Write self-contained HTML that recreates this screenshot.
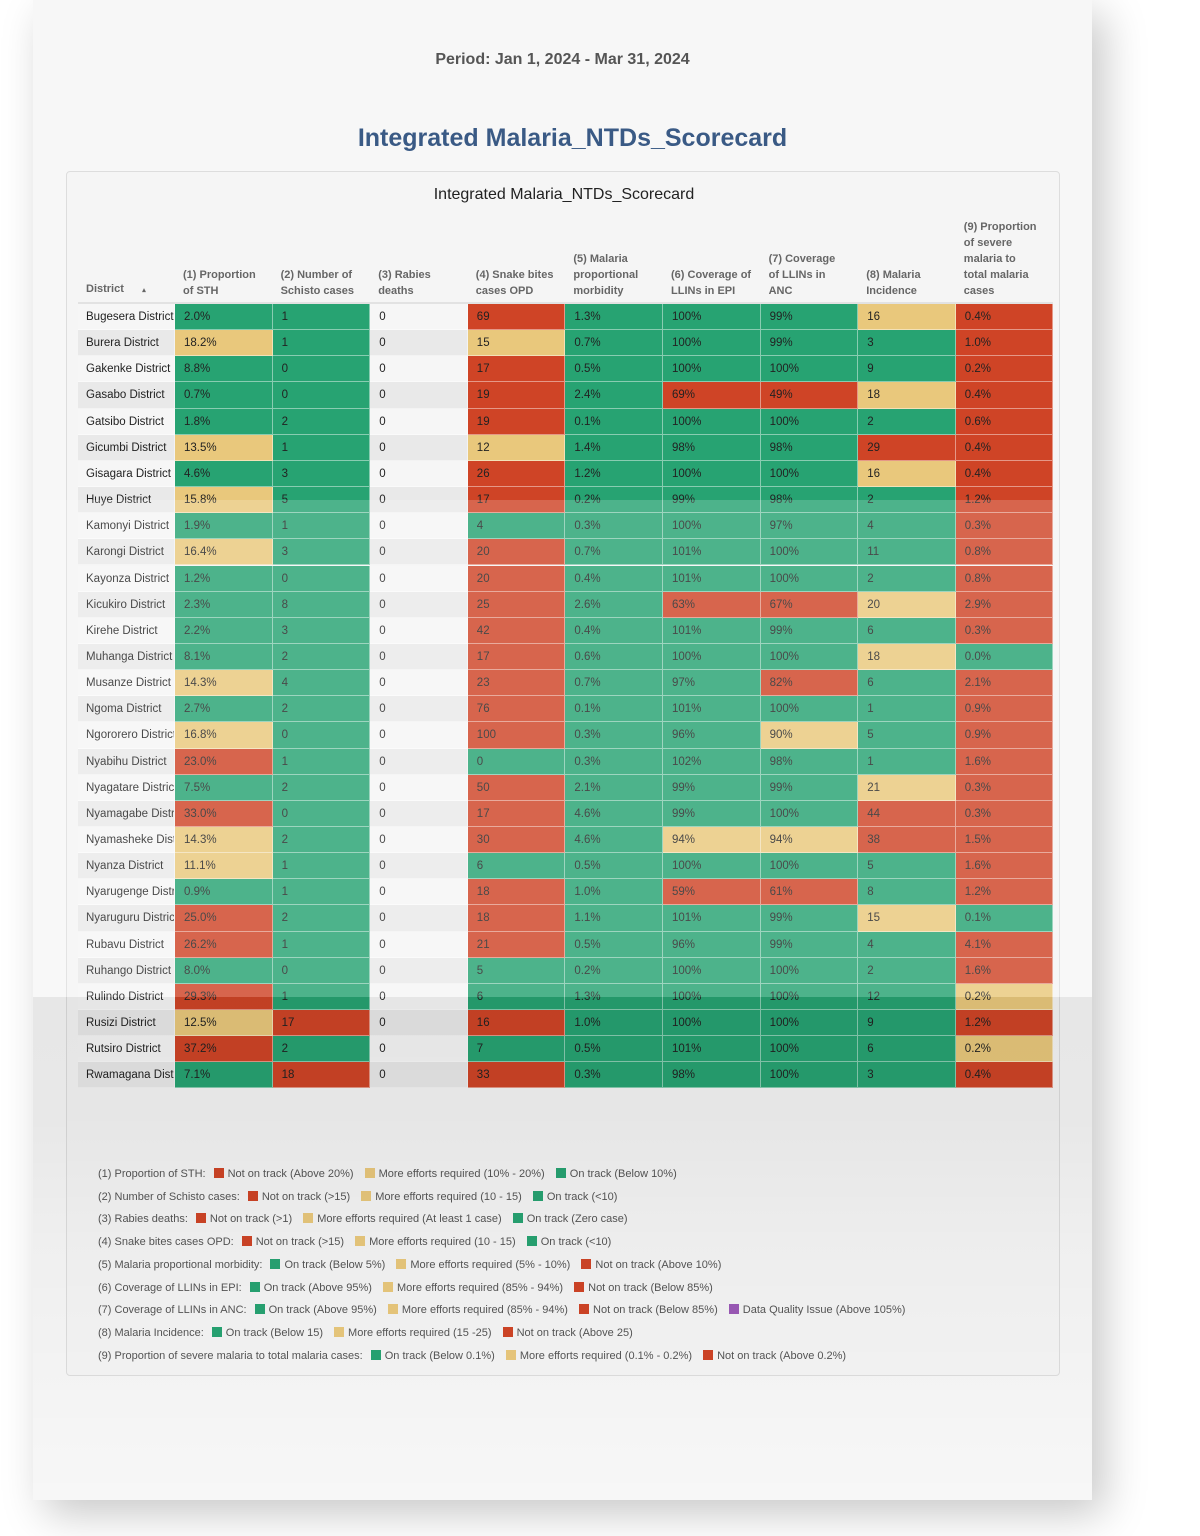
<!DOCTYPE html>
<html><head><meta charset="utf-8">
<style>
*{box-sizing:border-box;margin:0;padding:0}
body{width:1200px;height:1536px;background:#fff;position:relative;overflow:hidden;font-family:"Liberation Sans",Arial,sans-serif}
#page{position:absolute;left:33px;top:0;width:1059px;height:1500px;background:#f7f7f7;box-shadow:12px 14px 40px rgba(0,0,0,0.22)}
.abs{position:absolute}
#period{left:0;width:1059px;top:51px;text-align:center;font-size:16px;color:#555;font-weight:bold}
#title{left:0;width:1079px;top:124px;text-align:center;font-size:25px;color:#3a5a85;font-weight:bold}
#card{left:33px;top:171px;width:994px;height:1205px;border:1px solid #ddd;border-radius:4px;background:#f5f5f5}
#cardtitle{left:0;width:994px;top:14px;text-align:center;font-size:16px;color:#222}
.hdr{font-size:11px;font-weight:bold;color:#666;line-height:16px;position:absolute;bottom:0}
.cell{position:absolute;font-size:11.5px;color:#222;line-height:26px;padding-left:9px;white-space:nowrap;overflow:hidden;border-right:1px solid rgba(255,255,255,0.45);border-bottom:1px solid rgba(255,255,255,0.45)}
.leg{position:absolute;left:31px;font-size:11px;color:#555;white-space:nowrap}
.sw{display:inline-block;width:10px;height:10px;vertical-align:-1px;margin:0 4px 0 8px}
#band1{left:0;top:500px;width:1059px;height:497px;background:rgba(255,255,255,0.18);pointer-events:none}
#band2{left:0;top:997px;width:1059px;height:503px;background:linear-gradient(rgba(0,0,0,0.065) 0px,rgba(0,0,0,0.06) 130px,rgba(0,0,0,0.03) 250px,rgba(0,0,0,0.0) 503px);pointer-events:none}
</style></head>
<body>
<div id="page">
  <div id="period" class="abs">Period: Jan 1, 2024 - Mar 31, 2024</div>
  <div id="title" class="abs">Integrated Malaria_NTDs_Scorecard</div>
  <div id="card" class="abs">
    <div id="cardtitle" class="abs">Integrated Malaria_NTDs_Scorecard</div>
    <div id="table" class="abs" style="left:0;top:0;width:994px;height:1000px"></div>
    <div id="legend" class="abs" style="left:0;top:995px;width:994px;height:200px"></div>
  </div>
  <div id="band1" class="abs"></div>
  <div id="band2" class="abs"></div>
</div>
<script>
const districts=["Bugesera District","Burera District","Gakenke District","Gasabo District","Gatsibo District","Gicumbi District","Gisagara District","Huye District","Kamonyi District","Karongi District","Kayonza District","Kicukiro District","Kirehe District","Muhanga District","Musanze District","Ngoma District","Ngororero District","Nyabihu District","Nyagatare District","Nyamagabe District","Nyamasheke District","Nyanza District","Nyarugenge District","Nyaruguru District","Rubavu District","Ruhango District","Rulindo District","Rusizi District","Rutsiro District","Rwamagana District"];
const sth=[2.0,18.2,8.8,0.7,1.8,13.5,4.6,15.8,1.9,16.4,1.2,2.3,2.2,8.1,14.3,2.7,16.8,23.0,7.5,33.0,14.3,11.1,0.9,25.0,26.2,8.0,29.3,12.5,37.2,7.1];
const schisto=[1,1,0,0,2,1,3,5,1,3,0,8,3,2,4,2,0,1,2,0,2,1,1,2,1,0,1,17,2,18];
const rabies=[0,0,0,0,0,0,0,0,0,0,0,0,0,0,0,0,0,0,0,0,0,0,0,0,0,0,0,0,0,0];
const snake=[69,15,17,19,19,12,26,17,4,20,20,25,42,17,23,76,100,0,50,17,30,6,18,18,21,5,6,16,7,33];
const morbidity=[1.3,0.7,0.5,2.4,0.1,1.4,1.2,0.2,0.3,0.7,0.4,2.6,0.4,0.6,0.7,0.1,0.3,0.3,2.1,4.6,4.6,0.5,1.0,1.1,0.5,0.2,1.3,1.0,0.5,0.3];
const llinEpi=[100,100,100,69,100,98,100,99,100,101,101,63,101,100,97,101,96,102,99,99,94,100,59,101,96,100,100,100,101,98];
const llinAnc=[99,99,100,49,100,98,100,98,97,100,100,67,99,100,82,100,90,98,99,100,94,100,61,99,99,100,100,100,100,100];
const incidence=[16,3,9,18,2,29,16,2,4,11,2,20,6,18,6,1,5,1,21,44,38,5,8,15,4,2,12,9,6,3];
const severe=[0.4,1.0,0.24,0.4,0.6,0.4,0.4,1.2,0.3,0.8,0.8,2.9,0.3,0.0,2.1,0.9,0.9,1.6,0.3,0.3,1.5,1.6,1.2,0.1,4.1,1.6,0.2,1.2,0.2,0.4];
const headers=["(1) Proportion of STH","(2) Number of Schisto cases","(3) Rabies deaths","(4) Snake bites cases OPD","(5) Malaria proportional morbidity","(6) Coverage of LLINs in EPI","(7) Coverage of LLINs in ANC","(8) Malaria Incidence","(9) Proportion of severe malaria to total malaria cases"];
const hdrWidths=[86,85,60,85,80,82,76,70,74];

const G="#27a372",Y="#e9c87c",R="#cf4426",P="#9b59b6";
function cSth(v){return v>20?R:v>=10?Y:G}
function cSch(v){return v>15?R:v>=10?Y:G}
function cSnake(v){return v>15?R:v>=10?Y:G}
function cMorb(v){return v>10?R:v>=5?Y:G}
function cCov(v){return v>=95?G:v>=85?Y:R}
function cInc(v){return v>25?R:v>=15?Y:G}
function cSev(v){return v>0.2?R:v>0.1?Y:G}
const cols=[
 {vals:sth,fmt:v=>v.toFixed(1)+"%",col:cSth,name:"sth"},
 {vals:schisto,fmt:v=>String(v),col:cSch,name:"schisto"},
 {vals:rabies,fmt:v=>String(v),col:null,name:"rabies"},
 {vals:snake,fmt:v=>String(v),col:cSnake,name:"snake"},
 {vals:morbidity,fmt:v=>v.toFixed(1)+"%",col:cMorb,name:"morbidity"},
 {vals:llinEpi,fmt:v=>v+"%",col:cCov,name:"llin-epi"},
 {vals:llinAnc,fmt:v=>v+"%",col:cCov,name:"llin-anc"},
 {vals:incidence,fmt:v=>String(v),col:cInc,name:"incidence"},
 {vals:severe,fmt:v=>v.toFixed(1)+"%",col:cSev,name:"severe"}];

const T=document.getElementById('table');
const X0=11, DW=97, CW=97.6, Y0=132, RH=26.15;
function colX(i){return X0+DW+i*CW}
function rowY(r){return Y0+r*RH}
const dh=document.createElement('div');
dh.className='hdr';dh.style.left=(X0+8)+'px';dh.style.bottom=(1000-Y0+5)+'px';
dh.innerHTML='District&nbsp;&nbsp;&nbsp;&nbsp;&nbsp;&nbsp;<span style="font-size:7px">▴</span>';


T.appendChild(dh);
headers.forEach((h,i)=>{
 const d=document.createElement('div');
 d.className='hdr';d.style.left=(colX(i)+8)+'px';d.style.width=hdrWidths[i]+'px';d.style.bottom=(1000-Y0+5)+'px';
 d.textContent=h;
 
 
 T.appendChild(d);
});
const hl=document.createElement('div');
hl.className='abs';hl.style.cssText='left:'+X0+'px;top:'+(Y0-2)+'px;width:'+(DW+9*CW)+'px;height:2px;background:#e2e2e2';


T.appendChild(hl);
districts.forEach((name,r)=>{
 const stripe=r%2?'#e9e9e9':'#f6f6f6';
 const dc=document.createElement('div');
 dc.className='cell';
 dc.style.cssText+='left:'+X0+'px;top:'+rowY(r)+'px;width:'+DW+'px;height:'+RH+'px;background:'+stripe+';padding-left:8px';
 dc.textContent=name;
 
 
 T.appendChild(dc);
 cols.forEach((c,i)=>{
  const v=c.vals[r];
  const e=document.createElement('div');
  e.className='cell';
  e.style.left=colX(i)+'px';e.style.top=rowY(r)+'px';e.style.width=CW+'px';e.style.height=RH+'px';
  e.style.background=c.col?c.col(v):stripe;
  e.textContent=c.fmt(v);
  
  
  T.appendChild(e);
 });
});
const legendRows=[
 ["(1) Proportion of STH:",[[R,"Not on track (Above 20%)"],[Y,"More efforts required (10% - 20%)"],[G,"On track (Below 10%)"]]],
 ["(2) Number of Schisto cases:",[[R,"Not on track (>15)"],[Y,"More efforts required (10 - 15)"],[G,"On track (<10)"]]],
 ["(3) Rabies deaths:",[[R,"Not on track (>1)"],[Y,"More efforts required (At least 1 case)"],[G,"On track (Zero case)"]]],
 ["(4) Snake bites cases OPD:",[[R,"Not on track (>15)"],[Y,"More efforts required (10 - 15)"],[G,"On track (<10)"]]],
 ["(5) Malaria proportional morbidity:",[[G,"On track (Below 5%)"],[Y,"More efforts required (5% - 10%)"],[R,"Not on track (Above 10%)"]]],
 ["(6) Coverage of LLINs in EPI:",[[G,"On track (Above 95%)"],[Y,"More efforts required (85% - 94%)"],[R,"Not on track (Below 85%)"]]],
 ["(7) Coverage of LLINs in ANC:",[[G,"On track (Above 95%)"],[Y,"More efforts required (85% - 94%)"],[R,"Not on track (Below 85%)"],[P,"Data Quality Issue (Above 105%)"]]],
 ["(8) Malaria Incidence:",[[G,"On track (Below 15)"],[Y,"More efforts required (15 -25)"],[R,"Not on track (Above 25)"]]],
 ["(9) Proportion of severe malaria to total malaria cases:",[[G,"On track (Below 0.1%)"],[Y,"More efforts required (0.1% - 0.2%)"],[R,"Not on track (Above 0.2%)"]]]];
const L=document.getElementById('legend');
legendRows.forEach((lr,k)=>{
 const d=document.createElement('div');
 d.className='leg';d.style.top=(1+k*22.7)+'px';
 let h=lr[0];
 lr[1].forEach(it=>{h+='<span class="sw" style="background:'+it[0]+'"></span>'+it[1].replace(/</g,'&lt;').replace(/>/g,'&gt;')+' ';});
 d.innerHTML=h;
 
 
 L.appendChild(d);
});
</script>
</body></html>
